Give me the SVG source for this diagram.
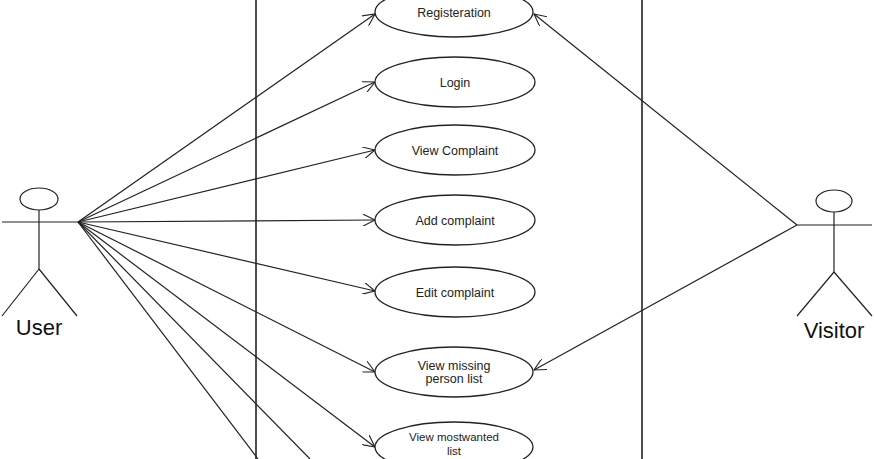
<svg xmlns="http://www.w3.org/2000/svg" width="874" height="459" viewBox="0 0 874 459">
<style>
.s{stroke:#222;stroke-width:1.2;fill:none}
.e{stroke:#222;stroke-width:1.3;fill:#fff}
.t{font-family:"Liberation Sans",Arial,sans-serif;font-size:12.5px;fill:#222;text-anchor:middle}
.a{font-family:"Liberation Sans",Arial,sans-serif;font-size:22px;fill:#111;text-anchor:middle}
</style>
<defs><marker id="m" markerWidth="14" markerHeight="12" refX="12" refY="6" orient="auto" markerUnits="userSpaceOnUse"><path d="M0,0 L12,6 L0,12" fill="none" stroke="#222" stroke-width="1.1"/></marker></defs>
<rect width="874" height="459" fill="#fff"/>
<g id="boundary" class="s"><line x1="256" y1="0" x2="256" y2="459" stroke-width="1.6"/><line x1="642" y1="0" x2="642" y2="459" stroke-width="1.6"/></g>
<g id="connectors" class="s">
<line x1="78" y1="222" x2="375" y2="14" marker-end="url(#m)"/>
<line x1="78" y1="222" x2="375" y2="82" marker-end="url(#m)"/>
<line x1="78" y1="222" x2="375" y2="150" marker-end="url(#m)"/>
<line x1="78" y1="222" x2="375" y2="220" marker-end="url(#m)"/>
<line x1="78" y1="222" x2="375" y2="291" marker-end="url(#m)"/>
<line x1="78" y1="222" x2="375" y2="372" marker-end="url(#m)"/>
<line x1="78" y1="222" x2="375" y2="447" marker-end="url(#m)"/>
<line x1="78" y1="222" x2="310" y2="459"/>
<line x1="78" y1="222" x2="258" y2="459"/>
<line x1="797" y1="225" x2="534" y2="14" marker-end="url(#m)"/>
<line x1="797" y1="225" x2="534" y2="370" marker-end="url(#m)"/>
</g>
<g id="user" class="s"><ellipse cx="39" cy="199" rx="19" ry="11"/><line x1="2" y1="222" x2="78" y2="222"/><line x1="39" y1="210" x2="39" y2="269"/><line x1="39" y1="269" x2="2" y2="316"/><line x1="39" y1="269" x2="77" y2="316"/><text class="a" x="39" y="335" stroke="none">User</text></g>
<g id="visitor" class="s"><ellipse cx="834" cy="201" rx="18" ry="11"/><line x1="797" y1="225" x2="872" y2="225"/><line x1="834" y1="212" x2="834" y2="272"/><line x1="834" y1="272" x2="797" y2="316"/><line x1="834" y1="272" x2="872" y2="316"/><text class="a" x="834" y="338" stroke="none">Visitor</text></g>
<g id="registration"><ellipse class="e" cx="454" cy="12" rx="79" ry="25"/><text class="t" x="454" y="17">Registeration</text></g>
<g id="login"><ellipse class="e" cx="455" cy="82" rx="80" ry="25"/><text class="t" x="455" y="87">Login</text></g>
<g id="viewcomplaint"><ellipse class="e" cx="455" cy="150" rx="80" ry="25"/><text class="t" x="455" y="155">View Complaint</text></g>
<g id="addcomplaint"><ellipse class="e" cx="455" cy="220" rx="80" ry="25"/><text class="t" x="455" y="225">Add complaint</text></g>
<g id="editcomplaint"><ellipse class="e" cx="455" cy="292" rx="80" ry="25"/><text class="t" x="455" y="297">Edit complaint</text></g>
<g id="missing"><ellipse class="e" cx="454" cy="372" rx="79" ry="25"/><text class="t" x="454" y="370">View missing</text><text class="t" x="454" y="383">person list</text></g>
<g id="mostwanted"><ellipse class="e" cx="454" cy="447" rx="79" ry="25"/><text class="t" x="454" y="441" style="font-size:11.5px">View mostwanted</text><text class="t" x="454" y="455" style="font-size:11.5px">list</text></g>
</svg>
